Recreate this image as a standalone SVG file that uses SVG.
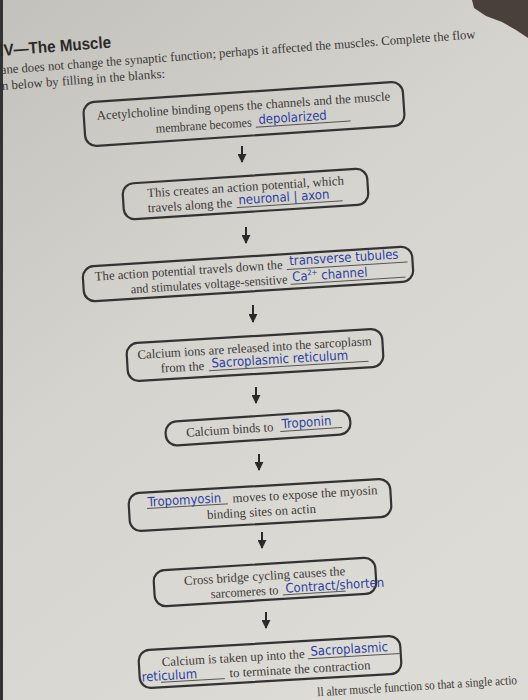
<svg xmlns="http://www.w3.org/2000/svg" width="528" height="700" viewBox="0 0 528 700">
<defs>
<linearGradient id="paper" x1="0" y1="0" x2="0.6" y2="1">
<stop offset="0" stop-color="#c3c1bc"/>
<stop offset="0.5" stop-color="#d6d4cf"/>
<stop offset="1" stop-color="#dddbd5"/>
</linearGradient>
<marker id="ah" viewBox="0 0 10 10" refX="9" refY="5" markerWidth="9" markerHeight="9" markerUnits="userSpaceOnUse" orient="auto">
<path d="M0,0 L10,5 L0,10 z" fill="#2a2a2a"/>
</marker>
</defs>
<style>
.box{fill:none;stroke:#333;stroke-width:2.2}
.t{font-family:"Liberation Serif","Times New Roman",serif;font-size:12.8px;fill:#3a3836}
.h{font-family:"DejaVu Sans","Liberation Sans",sans-serif;font-size:13px;fill:#2c3fa0;font-stretch:condensed}
.u{stroke:#3a3836;stroke-width:0.8}
.arr{stroke:#2a2a2a;stroke-width:2;fill:none}
</style>
<rect width="528" height="700" fill="url(#paper)"/>
<rect x="0" y="0" width="3" height="700" fill="#333"/>
<polygon points="472,0 528,0 528,38 516,30 502,22 486,16 474,8" fill="#4a403b"/>

<g id="header" transform="rotate(-4.3 0 60)">
<text x="0" y="56" font-family="Liberation Sans,Arial,sans-serif" font-weight="bold" font-size="16.5" fill="#2a2a2a" textLength="112" lengthAdjust="spacingAndGlyphs">IV—The Muscle</text>
<text x="0" y="74" class="t" font-size="12.5" textLength="476" lengthAdjust="spacingAndGlyphs">ane does not change the synaptic function; perhaps it affected the muscles. Complete the flow</text>
<text x="0" y="90" class="t" font-size="12.5">n below by filling in the blanks:</text>
</g>

<g id="connectors">
<line class="arr" x1="242" y1="146" x2="242" y2="162" marker-end="url(#ah)"/>
<line class="arr" x1="246" y1="227" x2="246" y2="243" marker-end="url(#ah)"/>
<line class="arr" x1="253" y1="305" x2="253" y2="322" marker-end="url(#ah)"/>
<line class="arr" x1="256" y1="387" x2="256" y2="403" marker-end="url(#ah)"/>
<line class="arr" x1="259" y1="454" x2="259" y2="470" marker-end="url(#ah)"/>
<line class="arr" x1="262" y1="532" x2="262" y2="548" marker-end="url(#ah)"/>
<line class="arr" x1="266" y1="612" x2="266" y2="628" marker-end="url(#ah)"/>
</g>

<g id="n1" transform="rotate(-3.8 244 114)">
<rect class="box" x="84" y="92" width="320" height="44" rx="11"/>
<text class="t" x="244" y="110" text-anchor="middle">Acetylcholine binding opens the channels and the muscle</text>
<text class="t" x="155" y="127" textLength="96" lengthAdjust="spacingAndGlyphs">membrane becomes</text>
<line class="u" x1="255" y1="128" x2="350" y2="128"/>
<text class="h" x="258" y="125" font-size="15">depolarized</text>
</g>

<g id="n2" transform="rotate(-3.7 246 194)">
<rect class="box" x="123" y="176" width="245" height="36" rx="11"/>
<text class="t" x="246" y="191" text-anchor="middle">This creates an action potential, which</text>
<text class="t" x="147" y="206">travels along the</text>
<line class="u" x1="236" y1="207" x2="342" y2="207"/>
<text class="h" x="238" y="204">neuronal | axon</text>
</g>

<g id="n3" transform="rotate(-3.6 248 274)">
<rect class="box" x="83" y="256.5" width="330" height="35" rx="11"/>
<text class="t" x="95" y="271" textLength="188" lengthAdjust="spacingAndGlyphs">The action potential travels down the</text>
<line class="u" x1="287" y1="272" x2="408" y2="272"/>
<text class="h" x="290" y="268" font-size="14">transverse tubules</text>
<text class="t" x="130" y="286" textLength="157" lengthAdjust="spacingAndGlyphs">and stimulates voltage-sensitive</text>
<line class="u" x1="290" y1="287" x2="405" y2="287"/>
<text class="h" x="292" y="284" font-size="14">Ca<tspan font-size="7.5" dy="-5">2+</tspan><tspan dy="5"> channel</tspan></text>
</g>

<g id="n4" transform="rotate(-3.4 255 355)">
<rect class="box" x="127" y="336" width="256" height="38" rx="11"/>
<text class="t" x="255" y="352" text-anchor="middle">Calcium ions are released into the sarcoplasm</text>
<text class="t" x="160" y="367">from the</text>
<line class="u" x1="208" y1="368" x2="368" y2="368"/>
<text class="h" x="211" y="365" font-size="14">Sacroplasmic reticulum</text>
</g>

<g id="n5" transform="rotate(-3.8 258 428)">
<rect class="box" x="165.5" y="416" width="185" height="24" rx="11"/>
<text class="t" x="186" y="432">Calcium binds to</text>
<line class="u" x1="280" y1="433" x2="342" y2="433"/>
<text class="h" x="282" y="430" font-size="14">Troponin</text>
</g>

<g id="n6" transform="rotate(-3.3 260 505)">
<rect class="box" x="129" y="486" width="262" height="38" rx="11"/>
<line class="u" x1="147" y1="502" x2="228" y2="502"/>
<text class="h" x="148" y="500" font-size="14">Tropomyosin</text>
<text class="t" x="233" y="501">moves to expose the myosin</text>
<text class="t" x="261" y="516" text-anchor="middle">binding sites on actin</text>
</g>

<g id="n7" transform="rotate(-3.5 265 582)">
<rect class="box" x="154" y="564" width="222" height="36" rx="11"/>
<text class="t" x="265" y="580" text-anchor="middle">Cross bridge cycling causes the</text>
<text class="t" x="210" y="595" textLength="68" lengthAdjust="spacingAndGlyphs">sarcomeres to</text>
<line class="u" x1="282" y1="596" x2="345" y2="596"/>
<text class="h" x="285" y="594" font-size="14">Contract/shorten</text>
</g>

<g id="n8" transform="rotate(-3.3 270 662)">
<rect class="box" x="139" y="643" width="262" height="38" rx="11"/>
<text class="t" x="162" y="660" textLength="143" lengthAdjust="spacingAndGlyphs">Calcium is taken up into the</text>
<line class="u" x1="308" y1="661" x2="400" y2="661"/>
<text class="h" x="311" y="658" font-size="14">Sacroplasmic</text>
<line class="u" x1="160" y1="676" x2="224" y2="676"/>
<text class="h" x="141" y="674" font-size="14">reticulum</text>
<text class="t" x="229" y="675">to terminate the contraction</text>
</g>

<g id="footer" transform="rotate(-3.5 420 700)">
<text class="t" x="318" y="690" font-size="11" textLength="200" lengthAdjust="spacingAndGlyphs">ll alter muscle function so that a single actio</text>
</g>
</svg>
